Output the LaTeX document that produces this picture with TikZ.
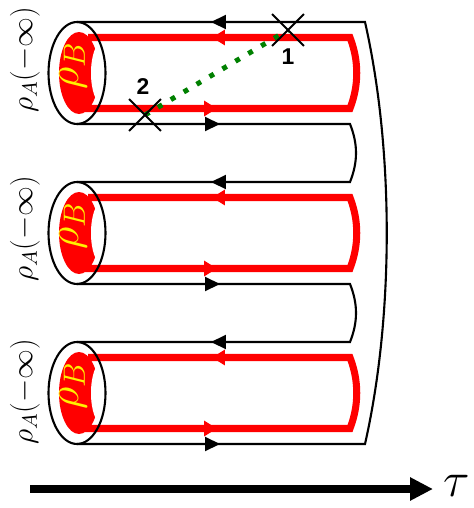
\RequirePackage{fix-cm}
\documentclass[tikz,border=0pt]{standalone}
\usepackage{fontspec}
\newfontfamily\numfont{Liberation Sans}
\usetikzlibrary{arrows.meta, shapes.misc}

\begin{document}
\begin{tikzpicture}[
  x=0.02cm, y=-0.02cm,
  tube/.style     = {line width=1.2pt, black},
  loopline/.style = {line width=4pt, red},
  blackarr/.style = {tube, -{Triangle[length=0.3cm, width=0.28cm]}},
  redarr/.style   = {loopline, -{Triangle[length=0.26cm, width=0.3cm]}},
  rhoA/.style     = {rotate=90, font=\fontsize{17}{20}\selectfont, inner sep=0pt},
  rhoB/.style     = {rotate=90, font=\fontsize{25}{27}\selectfont, text=yellow, inner sep=0pt},
  xmark/.style    = {cross out, draw, line width=1.1pt, minimum size=0.6cm, inner sep=0pt},
  num/.style      = {font=\numfont\bfseries\fontsize{13}{15}\selectfont},
  corr/.style     = {line width=2.85pt, green!50!black, dash pattern=on 2.85pt off 5.7pt},
  timearr/.style  = {line width=4pt, -{Triangle[length=0.46cm, width=0.44cm]}},
]
  \useasboundingbox (0,0) rectangle (474,508);
  % the three copies
  \foreach \yc/\ly/\k in {73/60/1, 233/229/2, 393/392/3} {
    \fill[red]   (79,\yc) ellipse [x radius=20, y radius=41];
    \fill[white] (102,\yc) ellipse [x radius=11, y radius=31];
    \draw[loopline] (85,\yc+35.5) -- (350,\yc+35.5) .. controls (359,\yc+12) and (359,\yc-12) .. (350,\yc-35.5) -- (88,\yc-35.5);
    \draw[redarr] (200,\yc+35.5) -- (217,\yc+35.5);
    \draw[redarr] (228,\yc-35.5) -- (212,\yc-35.5);
    \draw[tube] (77,\yc) ellipse [x radius=28.5, y radius=51];
    \draw[blackarr] (200,\yc+51) -- (220,\yc+51);
    \draw[blackarr] (230,\yc-51) -- (211,\yc-51);
    \node[rhoB] (rhoB\k) at (73,\yc-7) {$\rho_B$};
    \node[rhoA] (rhoA\k) at (25,\ly) {$\rho_A(-\infty)$};
  }
  \draw[tube] (77,22) -- (365,22) .. controls (394,150) and (394,316) .. (365,444) -- (77,444);
  \foreach \ya/\yb in {124/182, 284/342}
    \draw[tube] (77,\ya) -- (350,\ya) .. controls (358,\ya+20) and (358,\yb-20) .. (350,\yb) -- (77,\yb);

  \coordinate (pt1) at (288,30);
  \coordinate (pt2) at (145,115);
  \draw[corr] (pt2) -- (pt1);
  \node[xmark] (x1) at (pt1) {};
  \node[xmark] (x2) at (pt2) {};
  \node[num] (n1) at (288,57) {1};
  \node[num] (n2) at (143,87) {2};

  \coordinate (t0) at (30,489);
  \coordinate (t1) at (433,489);
  \draw[timearr] (t0) -- (t1);
  \node[font=\fontsize{28}{30}\selectfont] (tau) at (457,486) {$\tau$};
\end{tikzpicture}
\end{document}
